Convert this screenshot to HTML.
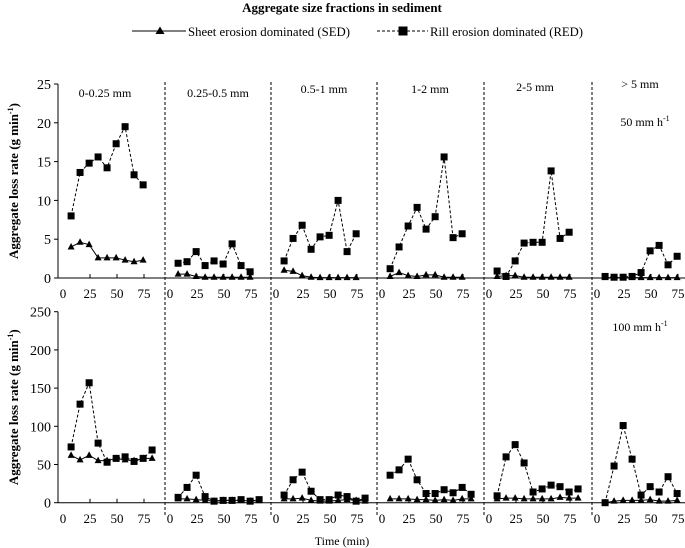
<!DOCTYPE html>
<html><head><meta charset="utf-8"><style>
html,body{margin:0;padding:0;background:#fff;}
svg{display:block;font-family:"Liberation Serif",serif;}
</style></head><body>
<svg id="chart" width="685" height="548" viewBox="0 0 685 548">
<text x="342" y="12" text-anchor="middle" font-weight="bold" font-size="13">Aggregate size fractions in sediment</text>
<g>
<g>
<line x1="132" y1="31" x2="186" y2="31" stroke="#000" stroke-width="1"/>
<polygon points="160,26.5 164.5,34 155.5,34" fill="#000"/>
<text x="188" y="36" font-size="12.5" textLength="162" lengthAdjust="spacingAndGlyphs">Sheet erosion dominated (SED)</text>
</g>
<g>
<line x1="377" y1="31" x2="428" y2="31" stroke="#000" stroke-dasharray="3,2"/>
<rect x="398.5" y="26.5" width="9" height="9" fill="#000"/>
<text x="430" y="36" font-size="12.5" textLength="153" lengthAdjust="spacingAndGlyphs">Rill erosion dominated (RED)</text>
</g>
</g>
<g id="plots"></g>
<text x="342" y="545" text-anchor="middle" font-size="12">Time (min)</text>
</svg>
<script>
const panelNames = ["0-0.25 mm","0.25-0.5 mm","0.5-1 mm","1-2 mm","2-5 mm","> 5 mm"];
const xTicks = [0,25,50,75];
const topYTicks = [0,5,10,15,20,25];
const botYTicks = [0,50,100,150,200,250];
const times = [7.5,15.8,24.2,32.5,40.8,49.2,57.5,65.8,74.2,82.5];
const topRED = [
 [8,13.6,14.8,15.6,14.2,17.3,19.5,13.3,12],
 [1.9,2.1,3.4,1.6,2.2,1.8,4.4,1.6,0.8],
 [2.2,5.1,6.8,3.7,5.3,5.5,10.0,3.4,5.7],
 [1.2,4.0,6.7,9.1,6.3,7.9,15.6,5.2,5.7],
 [0.9,0.2,2.2,4.5,4.6,4.6,13.8,5.1,5.9],
 [0.2,0.1,0.1,0.2,0.7,3.5,4.2,1.7,2.8]
];
const topSED = [
 [4,4.6,4.3,2.6,2.6,2.6,2.3,2.1,2.3],
 [0.5,0.5,0.2,0.1,0.1,0.1,0.1,0.1,0.1],
 [1.0,0.85,0.3,0.1,0.05,0.05,0.05,0.05,0.05],
 [0.2,0.7,0.3,0.2,0.4,0.4,0.1,0.1,0.1],
 [0.2,0.3,0.3,0.1,0.1,0.1,0.1,0.1,0.1],
 [0.05,0.05,0.05,0.05,0.05,0.05,0.05,0.05,0.05]
];
const botRED = [
 [73,129,157,78,53,58,60,54,58,69],
 [7,20,36,8,2,3,3,4,2,4],
 [10,30,40,15,4,4,10,8,2,6],
 [36,43,57,30,12,12,17,13,20,11],
 [9,60,76,52,14,18,23,21,14,18],
 [0,48,101,57,10,21,14,34,12]
];
const botSED = [
 [62,56,62,55,55,58,56,55,58,58],
 [5,5,4,3,2,3,3,3,2,3],
 [5,5,6,3,2,2,3,4,3,2],
 [5,5,5,4,4,3,4,3,5,5],
 [5,6,6,5,5,5,5,7,6,6],
 [0,2,3,3,3,4,2,2,3]
];
const NS="http://www.w3.org/2000/svg";
const g=document.getElementById('plots');
const lefts=[58,165,271,377,484,592];
const pxPerMin=1.08;
function xS(p,t){return lefts[p]+5+t*pxPerMin;}
const rows=[
 {y0:278,y1:84,max:25,ticks:topYTicks,red:topRED,sed:topSED,lab:298},
 {y0:502.7,y1:311.7,max:250,ticks:botYTicks,red:botRED,sed:botSED,lab:523}
];
function el(tag,attrs,parent){const e=document.createElementNS(NS,tag);for(const k in attrs)e.setAttribute(k,attrs[k]);(parent||g).appendChild(e);return e;}
rows.forEach((r,ri)=>{
 const yS=v=>r.y0-(v/r.max)*(r.y0-r.y1);
 const ax=el('line',{x1:58,y1:r.y0,x2:685,y2:r.y0,stroke:'#000','stroke-width':1});
 
 
 const yax=el('line',{x1:58,y1:r.y1,x2:58,y2:r.y0,stroke:'#000'});
 
 
 r.ticks.forEach(v=>{
  el('line',{x1:54,y1:yS(v),x2:58,y2:yS(v),stroke:'#000'});
  const t=el('text',{x:51,y:yS(v)+5,'text-anchor':'end','font-size':14});
  t.textContent=v;
  
  
 });
 const yt=el('text',{transform:`translate(18,${(r.y0+r.y1)/2}) rotate(-90)`,'text-anchor':'middle','font-size':13,'font-weight':'bold'});
 yt.innerHTML='Aggregate loss rate (g min<tspan font-size="8" dy="-5">-1</tspan><tspan dy="5">)</tspan>';
 
 
 for(let p=0;p<6;p++){
  xTicks.forEach(v=>{
   if(v>0) el('line',{x1:xS(p,v),y1:r.y0-4,x2:xS(p,v),y2:r.y0,stroke:'#000'});
   const t=el('text',{x:xS(p,v),y:r.lab,'text-anchor':'middle','font-size':13});
   t.textContent=v;
   
   
  });
  const sed=r.sed[p], red=r.red[p];
  const sp=sed.map((v,i)=>xS(p,times[i])+','+yS(v)).join(' ');
  const l1=el('polyline',{points:sp,fill:'none',stroke:'#000','stroke-width':1});
  
  
  const rp=red.map((v,i)=>xS(p,times[i])+','+yS(v)).join(' ');
  const l2=el('polyline',{points:rp,fill:'none',stroke:'#000','stroke-width':1,'stroke-dasharray':'3,2'});
  
  
  sed.forEach((v,i)=>{const x=xS(p,times[i]),y=yS(v);
   const m=el('polygon',{points:`${x},${y-4} ${x+3.5},${y+2.5} ${x-3.5},${y+2.5}`,fill:'#000'});
   
   });
  red.forEach((v,i)=>{const x=xS(p,times[i]),y=yS(v);
   const m=el('rect',{x:x-3.5,y:y-3.5,width:7,height:7,fill:'#000'});
   
   });
 }
});
for(let p=1;p<6;p++){
 const d=el('line',{x1:lefts[p],y1:82,x2:lefts[p],y2:515,stroke:'#000','stroke-dasharray':'3,2'});
 
 
}
const pcx=[105,218,324,430,535,640];
const pcy=[97,97,93,93,91,88];
panelNames.forEach((n,p)=>{
 const t=el('text',{x:pcx[p],y:pcy[p],'text-anchor':'middle','font-size':12});
 t.textContent=n;
 
 
});
const r1=el('text',{x:645,y:126,'text-anchor':'middle','font-size':12});
r1.innerHTML='50 mm h<tspan font-size="8" dy="-5">-1</tspan>';


const r2=el('text',{x:640,y:331,'text-anchor':'middle','font-size':12});
r2.innerHTML='100 mm h<tspan font-size="8" dy="-5">-1</tspan>';


</script>
</body></html>
